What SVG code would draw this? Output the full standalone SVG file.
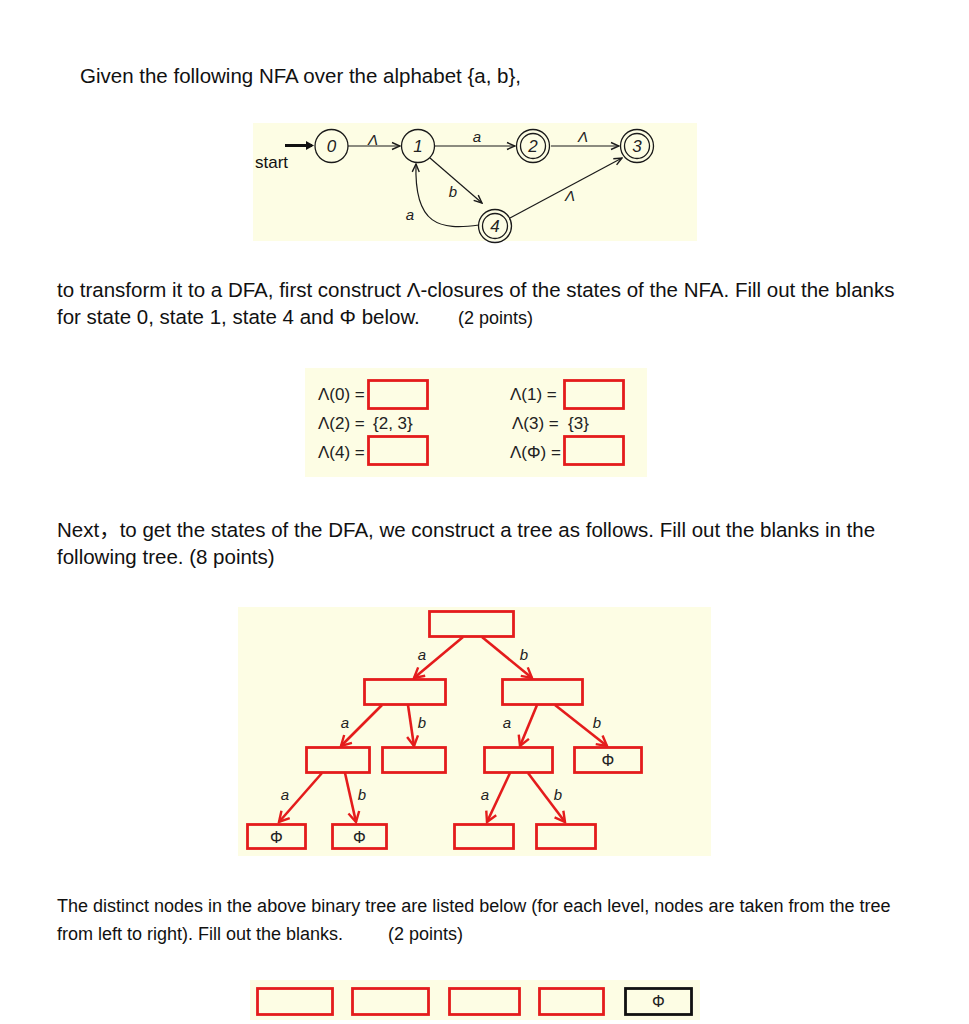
<svg xmlns="http://www.w3.org/2000/svg" width="969" height="1024" viewBox="0 0 969 1024">
<style>
.t{font-family:"Liberation Sans",Arial,"Noto Sans CJK SC",sans-serif;fill:#111}
.p{fill:#fdfde4}
.st{fill:none;stroke:#1a1a1a;stroke-width:1.3}
.lbl{font-family:"Liberation Sans",Arial,sans-serif;font-style:italic;font-size:15px;fill:#222;text-anchor:middle}
.dg{font-family:"Liberation Sans",Arial,sans-serif;font-style:italic;font-size:17px;fill:#222;text-anchor:middle}
.rb{fill:none;stroke:#e41c1c;stroke-width:2.8}
.bb{fill:none;stroke:#111;stroke-width:2.8}
.ra{fill:none;stroke:#e41c1c;stroke-width:2.6}
.na{fill:none;stroke:#1a1a1a;stroke-width:1.2}
.ct{font-family:"Liberation Sans",Arial,sans-serif;font-size:17px;fill:#222}
.phi{font-family:"Liberation Sans",Arial,sans-serif;font-size:16px;fill:#222;text-anchor:middle}
</style>
<defs>
<marker id="ah" markerWidth="10" markerHeight="10" refX="9" refY="5" orient="auto" markerUnits="userSpaceOnUse">
<path d="M1,1.5 L9,5 L1,8.5" fill="none" stroke="#1a1a1a" stroke-width="1.4"/>
</marker>
<marker id="rh" markerWidth="14" markerHeight="14" refX="12" refY="7" orient="auto" markerUnits="userSpaceOnUse">
<path d="M2,1.5 L12,7 L2,12.5" fill="none" stroke="#e41c1c" stroke-width="2.4"/>
</marker>
</defs>
<rect width="969" height="1024" fill="#fff"/>

<text class="t" x="80" y="83" font-size="20.5">Given the following NFA over the alphabet {a, b},</text>

<g id="nfa">
<rect class="p" x="253" y="123" width="444" height="118"/>
<text class="t" x="255" y="168" font-size="17">start</text>
<g id="connectors-nfa">
<line x1="285" y1="145.5" x2="312" y2="145.5" stroke="#111" stroke-width="3"/>
<path d="M306,141 L314,145.5 L306,150 Z" fill="#111"/>
<line class="na" x1="348" y1="146" x2="400" y2="146" marker-end="url(#ah)"/>
<line class="na" x1="435" y1="146" x2="515" y2="146" marker-end="url(#ah)"/>
<line class="na" x1="551" y1="146" x2="619" y2="146" marker-end="url(#ah)"/>
<line class="na" x1="430" y1="158" x2="482" y2="203" marker-end="url(#ah)"/>
<line class="na" x1="510" y1="218" x2="622" y2="158" marker-end="url(#ah)"/>
<path class="na" d="M479,225 C440,230 414,226 416,164" marker-end="url(#ah)"/>
<text class="lbl" x="373" y="145">Λ</text>
<text class="lbl" x="477" y="142">a</text>
<text class="lbl" x="583" y="142">Λ</text>
<text class="lbl" x="453" y="197">b</text>
<text class="lbl" x="570" y="201">Λ</text>
<text class="lbl" x="410" y="220">a</text>
</g>
<g id="q0"><circle class="st" cx="331.5" cy="146" r="16.5"/><text class="dg" x="331.5" y="152">0</text></g>
<g id="q1"><circle class="st" cx="418" cy="146" r="16.5"/><text class="dg" x="418" y="152">1</text></g>
<g id="q2"><circle class="st" cx="533" cy="146" r="16.5"/><circle class="st" cx="533" cy="146" r="12.5"/><text class="dg" x="533" y="152">2</text></g>
<g id="q3"><circle class="st" cx="637" cy="146" r="16.5"/><circle class="st" cx="637" cy="146" r="12.5"/><text class="dg" x="637" y="152">3</text></g>
<g id="q4"><circle class="st" cx="495" cy="226" r="16.5"/><circle class="st" cx="495" cy="226" r="12.5"/><text class="dg" x="495" y="232">4</text></g>
</g>

<text class="t" x="57" y="297" font-size="20.5">to transform it to a DFA, first construct Λ-closures of the states of the NFA. Fill out the blanks</text>
<text class="t" x="57" y="324" font-size="20.5">for state 0, state 1, state 4 and Φ below.</text>
<text class="t" x="458" y="324" font-size="18">(2 points)</text>

<g id="closures">
<rect class="p" x="305" y="368" width="342" height="109"/>
<text class="ct" x="318" y="400">Λ(0) =</text>
<rect class="rb" x="368.5" y="380.5" width="59" height="28"/>
<text class="ct" x="318" y="429">Λ(2) =</text>
<text class="ct" x="373" y="429">{2, 3}</text>
<text class="ct" x="318" y="458">Λ(4) =</text>
<rect class="rb" x="368.5" y="436.5" width="59" height="28"/>
<text class="ct" x="510" y="400">Λ(1) =</text>
<rect class="rb" x="564.5" y="380.5" width="59" height="28"/>
<text class="ct" x="512" y="429">Λ(3) =</text>
<text class="ct" x="568" y="429">{3}</text>
<text class="ct" x="510" y="458">Λ(Φ) =</text>
<rect class="rb" x="564.5" y="436.5" width="59" height="28"/>
</g>

<text class="t" x="57" y="537" font-size="20.5">Next，to get the states of the DFA, we construct a tree as follows. Fill out the blanks in the</text>
<text class="t" x="57" y="564" font-size="20.5">following tree. (8 points)</text>

<g id="tree">
<rect class="p" x="238" y="607" width="473" height="249"/>
<g id="tree-connectors">
<line class="ra" x1="463" y1="637" x2="414" y2="678" marker-end="url(#rh)"/>
<line class="ra" x1="482" y1="637" x2="532" y2="678" marker-end="url(#rh)"/>
<line class="ra" x1="382" y1="705" x2="341" y2="746" marker-end="url(#rh)"/>
<line class="ra" x1="408" y1="705" x2="414" y2="746" marker-end="url(#rh)"/>
<line class="ra" x1="537" y1="705" x2="520" y2="746" marker-end="url(#rh)"/>
<line class="ra" x1="555" y1="705" x2="607" y2="746" marker-end="url(#rh)"/>
<line class="ra" x1="322" y1="773" x2="279" y2="822" marker-end="url(#rh)"/>
<line class="ra" x1="345" y1="773" x2="356" y2="822" marker-end="url(#rh)"/>
<line class="ra" x1="510" y1="773" x2="487" y2="822" marker-end="url(#rh)"/>
<line class="ra" x1="528" y1="773" x2="565" y2="822" marker-end="url(#rh)"/>
<text class="lbl" x="422" y="660">a</text>
<text class="lbl" x="524" y="660">b</text>
<text class="lbl" x="345" y="728">a</text>
<text class="lbl" x="422" y="728">b</text>
<text class="lbl" x="507" y="728">a</text>
<text class="lbl" x="597" y="728">b</text>
<text class="lbl" x="285" y="800">a</text>
<text class="lbl" x="362" y="800">b</text>
<text class="lbl" x="485" y="800">a</text>
<text class="lbl" x="558" y="800">b</text>
</g>
<g id="n-root"><rect class="rb" x="429.5" y="611.5" width="84" height="25"/></g>
<g id="n-a"><rect class="rb" x="364.5" y="679.5" width="81" height="25"/></g>
<g id="n-b"><rect class="rb" x="502.5" y="679.5" width="80" height="25"/></g>
<g id="n-aa"><rect class="rb" x="306.5" y="747.5" width="63" height="25"/></g>
<g id="n-ab"><rect class="rb" x="382.5" y="747.5" width="63" height="25"/></g>
<g id="n-ba"><rect class="rb" x="484.5" y="747.5" width="68" height="25"/></g>
<g id="n-bb"><rect class="rb" x="574.5" y="747.5" width="67" height="25"/><text class="phi" x="608" y="766">Φ</text></g>
<g id="n-aaa"><rect class="rb" x="247.5" y="824.5" width="58" height="24"/><text class="phi" x="276.5" y="842.5">Φ</text></g>
<g id="n-aab"><rect class="rb" x="332.5" y="824.5" width="54" height="24"/><text class="phi" x="359.5" y="842.5">Φ</text></g>
<g id="n-baa"><rect class="rb" x="454.5" y="824.5" width="59" height="24"/></g>
<g id="n-bab"><rect class="rb" x="536.5" y="824.5" width="59" height="24"/></g>
</g>

<text class="t" x="57" y="912" font-size="18">The distinct nodes in the above binary tree are listed below (for each level, nodes are taken from the tree</text>
<text class="t" x="57" y="940" font-size="18">from left to right). Fill out the blanks.</text>
<text class="t" x="388" y="940" font-size="18">(2 points)</text>

<g id="list">
<rect class="p" x="250" y="980" width="450" height="40"/>
<g id="l1"><rect class="rb" x="257.5" y="988.5" width="75" height="26"/></g>
<g id="l2"><rect class="rb" x="352.5" y="988.5" width="76" height="26"/></g>
<g id="l3"><rect class="rb" x="449.5" y="988.5" width="70" height="26"/></g>
<g id="l4"><rect class="rb" x="539.5" y="988.5" width="64" height="26"/></g>
<g id="l5"><rect class="bb" x="625.5" y="988.5" width="66" height="26"/><text class="phi" x="658.5" y="1007">Φ</text></g>
</g>
</svg>
